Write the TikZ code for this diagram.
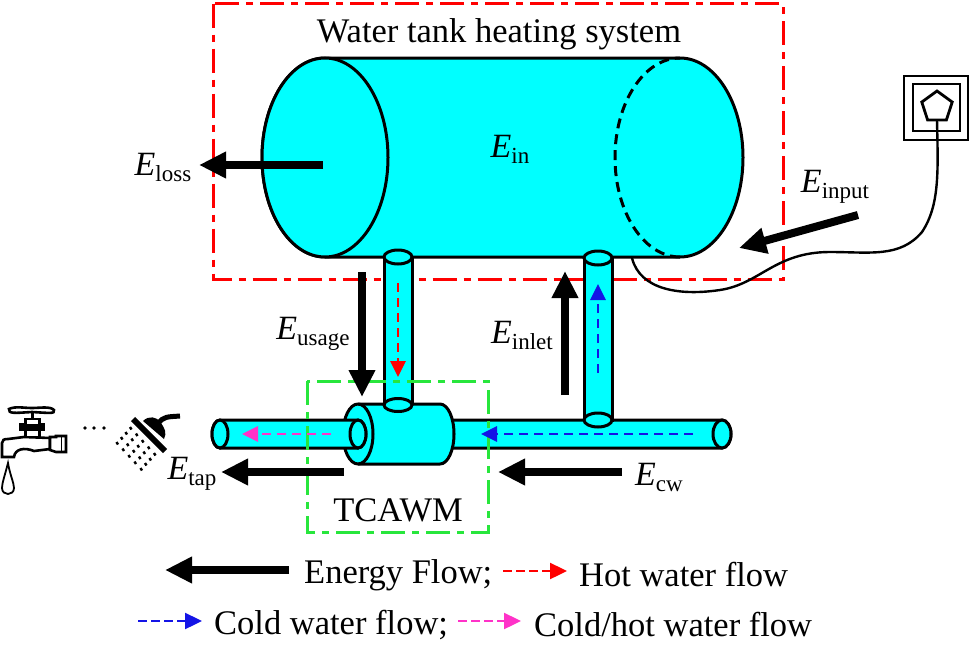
\documentclass[tikz,border=0pt]{standalone}
\usepackage{fontspec}
\setmainfont{Liberation Serif}
\usetikzlibrary{arrows.meta,shapes.geometric}
\definecolor{wat}{RGB}{0,255,255}
\definecolor{gbox}{RGB}{40,230,60}
\definecolor{mag}{RGB}{255,50,200}
\definecolor{cblue}{RGB}{20,20,230}
\tikzset{
 x=1pt,y=-1pt,
 shape line/.style={draw=black,line width=3pt,fill=wat},
 eflow/.style={line width=8pt,-{Triangle[length=27pt,width=25pt]},black},
 wflow/.style={line width=2.8pt,dash pattern=on 9pt off 6pt,-{Triangle[length=16pt,width=15pt]}},
 legflow/.style={line width=2.4pt,dash pattern=on 8.5pt off 4.5pt,-{Triangle[length=17pt,width=16pt]}},
 frame dash/.style={line width=3pt,dash pattern=on 24pt off 7pt on 7pt off 7pt},
 bigtxt/.style={font=\fontsize{34.5}{38}\selectfont,inner sep=0pt},
 lab/.style={font=\fontsize{34}{38}\selectfont,inner sep=0pt},
}
\newcommand{\EE}[1]{\textit{E}\raisebox{-6pt}{\fontsize{23}{24}\selectfont #1}}
% right half, top to bottom: centre x, centre y, rx, ry
\newcommand{\rhalf}[4]{({#1},{#2-#4}) .. controls ({#1+.5523*#3},{#2-#4}) and ({#1+#3},{#2-.5523*#4}) .. ({#1+#3},{#2}) .. controls ({#1+#3},{#2+.5523*#4}) and ({#1+.5523*#3},{#2+#4}) .. ({#1},{#2+#4})}
% left half, bottom to top
\newcommand{\lhalf}[4]{({#1},{#2+#4}) .. controls ({#1-.5523*#3},{#2+#4}) and ({#1-#3},{#2+.5523*#4}) .. ({#1-#3},{#2}) .. controls ({#1-#3},{#2-.5523*#4}) and ({#1-.5523*#3},{#2-#4}) .. ({#1},{#2-#4})}
\begin{document}
\begin{tikzpicture}
\useasboundingbox (0,0) rectangle (969,645);
% red frame
\draw[red,frame dash] (213,3.5) rectangle (783,279);
% tank
\draw[shape line] \rhalf{680}{157.5}{63}{99.5} -- \lhalf{325}{157.5}{63}{99.5} -- cycle;
\draw[shape line] (325,157.5) ellipse[x radius=63,y radius=99.5];
\draw[line width=3pt,dash pattern=on 10pt off 6pt] \lhalf{680}{157.5}{65}{99.5};
% cable
\draw[line width=2.4pt] (632,258) .. controls (640,290) and (680,296) .. (720,290) .. controls (760,284) and (775,252) .. (830,252) .. controls (870,252) and (900,258) .. (922,232) .. controls (940,205) and (938,170) .. (937,120);
% socket
\draw[line width=2.8pt] (904,76) rectangle (968,140);
\draw[line width=2.8pt] (913,84) rectangle (960,131);
\node[regular polygon,regular polygon sides=5,draw,line width=2.8pt,minimum size=32pt,inner sep=0pt] (plug) at (937,107) {};
% pipes vertical
\draw[shape line] (384,257) -- (384,405) -- (412,405) -- (412,257);
\draw[shape line] (398,257) ellipse[x radius=14,y radius=7];
% horizontal right pipe
\draw[shape line] \rhalf{722}{434}{9}{14} -- (445,448) -- (445,420) -- cycle;
\draw[shape line] (722,434) ellipse[x radius=9,y radius=14];
\draw[shape line] (584,258) -- (584,420) -- (612,420) -- (612,258);
\draw[shape line] (598,258) ellipse[x radius=14,y radius=7];
\draw[shape line] (598,420) ellipse[x radius=14,y radius=7];
% valve
\draw[shape line] \rhalf{440}{434}{14}{30} -- \lhalf{358}{434}{15}{30} -- cycle;
\draw[line width=3pt] \rhalf{358}{434}{15}{30};
\draw[shape line] (398,405) ellipse[x radius=14,y radius=6.5];
% left pipe
\draw[shape line] \rhalf{358}{434}{8}{14} -- \lhalf{220}{434}{8}{14} -- cycle;
\draw[shape line] (220,434) ellipse[x radius=8,y radius=14];
\draw[shape line] (358,434) ellipse[x radius=8,y radius=14];
% green box
\draw[gbox,frame dash] (307,381) rectangle (488,532);
% water flow
\draw[wflow,red] (398,283) -- (398,377);
\draw[wflow,cblue] (598,373) -- (598,284);
\draw[wflow,cblue] (693,434) -- (481,434);
\draw[wflow,mag] (331,434) -- (242,434);
% energy arrows
\draw[eflow] (323,165) -- (199,165);
\draw[eflow] (362,272) -- (362,397);
\draw[eflow] (565,395) -- (565,271);
\draw[eflow] (858,215) -- (739,248);
\draw[eflow] (344,472) -- (221,472);
\draw[eflow] (622,472) -- (498,472);
% labels
\node[bigtxt] (title) at (499,34) {Water tank heating system};
\node[lab] (ein) at (510,149) {\EE{in}};
\node[lab] (eloss) at (163,167) {\EE{loss}};
\node[lab] (einput) at (835,187) {\EE{input}};
\node[lab] (eusage) at (313,334) {\EE{usage}};
\node[lab] (einlet) at (522,335) {\EE{inlet}};
\node[lab] (etap) at (192,474) {\EE{tap}};
\node[lab] (ecw) at (659,477) {\EE{cw}};
\node[bigtxt] (tc) at (398,510) {TCAWM};
% legend
\draw[eflow] (289,570) -- (165,570);
\node[bigtxt,anchor=west] (l1) at (304,575) {Energy Flow;};
\draw[legflow,red] (503,571) -- (567,571);
\node[bigtxt,anchor=west] (l2) at (579,575) {Hot water flow};
\draw[legflow,cblue] (138,621) -- (202,621);
\node[bigtxt,anchor=west] (l3) at (214,625) {Cold water flow;};
\draw[legflow,mag] (458,621) -- (521,621);
\node[bigtxt,anchor=west] (l4) at (534,625) {Cold/hot water flow};
% dots
\foreach \x in {85,94,104} \fill (\x,428) circle (1.9pt);
% faucet
\draw[line width=2.6pt,fill=white] (2,457) -- (2,443) .. controls (2,440) and (4,439) .. (8,439) -- (24,437) -- (50,438) -- (50,449) -- (34,451) .. controls (24,447) and (15,449) .. (14,457) -- cycle;
\fill (19,423) rectangle (45,431);
\fill (24,418) rectangle (41,438);
\fill[white] (27,420) rectangle (38,424);
\fill[white] (27,431) rectangle (38,436);
\draw[line width=3pt] (32,408) -- (32,420);
\draw[line width=2.6pt,fill=white] (9,409) .. controls (15,406) and (24,408) .. (32,408) .. controls (40,408) and (50,406) .. (54,410) .. controls (55,414) and (50,413) .. (32,412) .. controls (15,413) and (8,414) .. (9,409) -- cycle;
\draw[line width=2.6pt,fill=white] (50,437) -- (56,437) -- (56,436) -- (66,436) -- (66,452) -- (56,452) -- (50,450) -- cycle;
\draw[line width=1pt] (61,436) -- (61,452);
\draw[line width=1.8pt] (8,463) .. controls (5,475) and (2,483) .. (2,488) .. controls (2,496) and (14,496) .. (14,488) .. controls (14,483) and (10,475) .. (8,463) -- cycle;
% shower
\draw[line width=6pt] (133,419) -- (165,451);
\fill (143,421) .. controls (149,415) and (157,417) .. (160,422) .. controls (165,428) and (167,433) .. (164,439) -- cycle;
\draw[line width=5pt] (158,424) .. controls (163,416) and (168,417) .. (180,416);
\foreach \i in {0,...,4} \foreach \j in {0,...,3}
 \draw[line width=2.4pt] ({130+6*\i-4.5*\j},{427+6.5*\i+5*\j}) -- ++(1.5,2.5);
\end{tikzpicture}
\end{document}
